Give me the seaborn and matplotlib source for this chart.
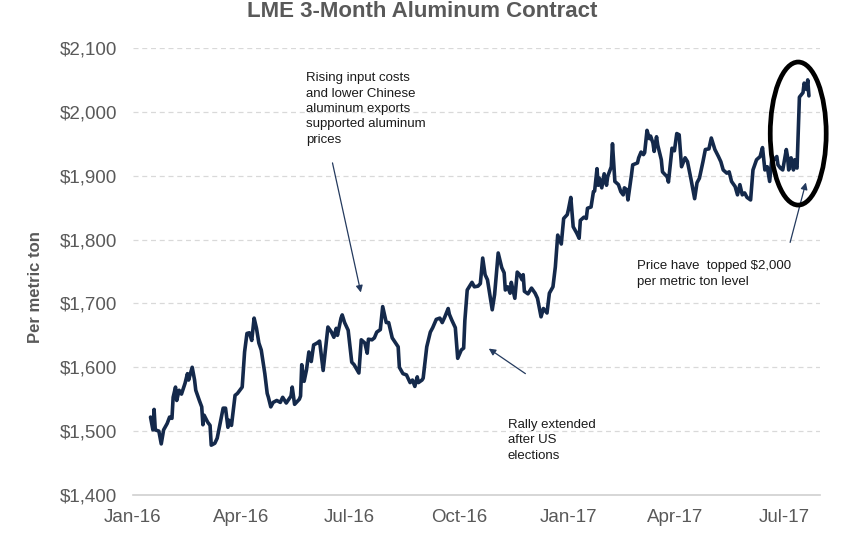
import pandas as pd
import matplotlib
matplotlib.use("Agg")
import matplotlib.pyplot as plt
import matplotlib.dates as mdates
from matplotlib.patches import Ellipse
import seaborn as sns

# LME 3-month aluminum price, $ per metric ton
dates = [
    "2016-01-16", "2016-01-18", "2016-01-19", "2016-01-20", "2016-01-23", "2016-01-25",
    "2016-01-27", "2016-01-30", "2016-02-01", "2016-02-03", "2016-02-04", "2016-02-06",
    "2016-02-07", "2016-02-09", "2016-02-11", "2016-02-14", "2016-02-16", "2016-02-17",
    "2016-02-20", "2016-02-22", "2016-02-23", "2016-02-26", "2016-02-28", "2016-02-29",
    "2016-03-01", "2016-03-04", "2016-03-06", "2016-03-07", "2016-03-10", "2016-03-12",
    "2016-03-17", "2016-03-19", "2016-03-21", "2016-03-22", "2016-03-24", "2016-03-27",
    "2016-03-29", "2016-04-02", "2016-04-04", "2016-04-06", "2016-04-08", "2016-04-10",
    "2016-04-12", "2016-04-14", "2016-04-16", "2016-04-18", "2016-04-21", "2016-04-23",
    "2016-04-24", "2016-04-26", "2016-04-28", "2016-05-01", "2016-05-04", "2016-05-06",
    "2016-05-09", "2016-05-13", "2016-05-14", "2016-05-16", "2016-05-20", "2016-05-21",
    "2016-05-22", "2016-05-24", "2016-05-26", "2016-05-28", "2016-05-30", "2016-06-01",
    "2016-06-04", "2016-06-06", "2016-06-08", "2016-06-09", "2016-06-13", "2016-06-16",
    "2016-06-18", "2016-06-20", "2016-06-21", "2016-06-24", "2016-06-25", "2016-06-27",
    "2016-06-30", "2016-07-03", "2016-07-05", "2016-07-09", "2016-07-11", "2016-07-14",
    "2016-07-16", "2016-07-17", "2016-07-20", "2016-07-22", "2016-07-24", "2016-07-27",
    "2016-07-29", "2016-08-01", "2016-08-03", "2016-08-06", "2016-08-11", "2016-08-12",
    "2016-08-15", "2016-08-18", "2016-08-21", "2016-08-23", "2016-08-25", "2016-08-27",
    "2016-08-28", "2016-08-31", "2016-09-01", "2016-09-04", "2016-09-07", "2016-09-09",
    "2016-09-12", "2016-09-15", "2016-09-17", "2016-09-19", "2016-09-22", "2016-09-23",
    "2016-09-25", "2016-09-28", "2016-09-30", "2016-10-03", "2016-10-05", "2016-10-06",
    "2016-10-08", "2016-10-12", "2016-10-14", "2016-10-17", "2016-10-19", "2016-10-21",
    "2016-10-23", "2016-10-25", "2016-10-29", "2016-10-31", "2016-11-03", "2016-11-06",
    "2016-11-08", "2016-11-09", "2016-11-11", "2016-11-13", "2016-11-14", "2016-11-17",
    "2016-11-19", "2016-11-21", "2016-11-23", "2016-11-24", "2016-11-25", "2016-11-28",
    "2016-12-01", "2016-12-04", "2016-12-06", "2016-12-09", "2016-12-11", "2016-12-14",
    "2016-12-16", "2016-12-19", "2016-12-21", "2016-12-23", "2016-12-26", "2016-12-28",
    "2016-12-31", "2017-01-01", "2017-01-03", "2017-01-05", "2017-01-08", "2017-01-10",
    "2017-01-11", "2017-01-14", "2017-01-16", "2017-01-17", "2017-01-20", "2017-01-22",
    "2017-01-23", "2017-01-25", "2017-01-26", "2017-01-27", "2017-01-29", "2017-01-31",
    "2017-02-02", "2017-02-03", "2017-02-06", "2017-02-07", "2017-02-09", "2017-02-12",
    "2017-02-14", "2017-02-16", "2017-02-17", "2017-02-19", "2017-02-20", "2017-02-23",
    "2017-02-24", "2017-02-28", "2017-03-01", "2017-03-03", "2017-03-05", "2017-03-06",
    "2017-03-08", "2017-03-10", "2017-03-11", "2017-03-13", "2017-03-14", "2017-03-16",
    "2017-03-17", "2017-03-20", "2017-03-21", "2017-03-25", "2017-03-26", "2017-03-29",
    "2017-03-31", "2017-04-02", "2017-04-04", "2017-04-06", "2017-04-09", "2017-04-11",
    "2017-04-14", "2017-04-17", "2017-04-19", "2017-04-21", "2017-04-24", "2017-04-26",
    "2017-04-29", "2017-05-01", "2017-05-04", "2017-05-07", "2017-05-09", "2017-05-11",
    "2017-05-14", "2017-05-16", "2017-05-18", "2017-05-21", "2017-05-23", "2017-05-25",
    "2017-05-27", "2017-05-29", "2017-05-31", "2017-06-03", "2017-06-05", "2017-06-08",
    "2017-06-11", "2017-06-13", "2017-06-15", "2017-06-17", "2017-06-19", "2017-06-21",
    "2017-06-23", "2017-06-25", "2017-06-26", "2017-06-28", "2017-06-30", "2017-07-03",
    "2017-07-04", "2017-07-05", "2017-07-07", "2017-07-09", "2017-07-10", "2017-07-11",
    "2017-07-12", "2017-07-14", "2017-07-17", "2017-07-18", "2017-07-20", "2017-07-21",
    "2017-07-22",
]
prices = [
    1522, 1502, 1534, 1502, 1500, 1480,
    1502, 1512, 1522, 1520, 1553, 1569,
    1548, 1564, 1558, 1575, 1590, 1580,
    1600, 1580, 1564, 1548, 1538, 1510,
    1525, 1514, 1509, 1478, 1481, 1489,
    1536, 1536, 1506, 1517, 1509, 1556,
    1559, 1569, 1624, 1653, 1654, 1642,
    1677, 1661, 1638, 1627, 1590, 1559,
    1553, 1538, 1545, 1548, 1545, 1553,
    1544, 1555, 1569, 1542, 1550, 1555,
    1604, 1578, 1596, 1624, 1609, 1635,
    1638, 1641, 1611, 1595, 1663, 1655,
    1647, 1661, 1650, 1677, 1682, 1670,
    1658, 1608, 1604, 1591, 1643, 1638,
    1622, 1644, 1643, 1646, 1655, 1659,
    1695, 1670, 1670, 1646, 1632, 1600,
    1590, 1588, 1576, 1580, 1570, 1585,
    1576, 1580, 1583, 1632, 1655, 1662,
    1675, 1677, 1670, 1678, 1692, 1683,
    1674, 1662, 1614, 1627, 1630, 1673,
    1721, 1733, 1726, 1727, 1731, 1771,
    1745, 1737, 1690, 1714, 1779, 1756,
    1748, 1721, 1726, 1716, 1733, 1708,
    1749, 1745, 1737, 1745, 1719, 1715,
    1724, 1716, 1708, 1679, 1692, 1685,
    1716, 1726, 1757, 1807, 1793, 1833,
    1839, 1847, 1866, 1820, 1810, 1802,
    1830, 1835, 1833, 1849, 1851, 1875,
    1876, 1911, 1885, 1896, 1881, 1903,
    1885, 1899, 1914, 1950, 1891, 1886,
    1875, 1870, 1881, 1878, 1862, 1902,
    1917, 1920, 1928, 1937, 1933, 1936,
    1971, 1958, 1962, 1951, 1938, 1961,
    1948, 1925, 1906, 1898, 1890, 1943,
    1939, 1966, 1964, 1914, 1928, 1922,
    1894, 1864, 1889, 1896, 1922, 1941,
    1942, 1959, 1941, 1930, 1922, 1909,
    1904, 1906, 1891, 1883, 1870, 1886,
    1870, 1873, 1866, 1862, 1909, 1925,
    1930, 1944, 1909, 1914, 1891, 1930,
    1925, 1930, 1917, 1912, 1909, 1941,
    1930, 1909, 1928, 1909, 1925, 1914,
    1912, 2023, 2030, 2045, 2035, 2050,
    2025,
]
y_ticks = [1400, 1500, 1600, 1700, 1800, 1900, 2000, 2100]

df = pd.DataFrame({"date": pd.to_datetime(dates), "price": prices})

sns.set_style("white")
plt.rcParams["font.family"] = ["Liberation Sans", "DejaVu Sans"]

fig = plt.figure(figsize=(8.45, 5.36), dpi=100)
ax = fig.add_axes([0.157, 0.0765, 0.813, 0.834])

sns.lineplot(data=df, x="date", y="price", color="#14294b", linewidth=2.6, ax=ax)

ax.set_ylim(1400, 2100)
ax.set_xlim(pd.Timestamp("2016-01-01"), pd.Timestamp("2017-07-31"))
ax.set_yticks(y_ticks)
ax.set_yticklabels([f"${v:,}" for v in y_ticks])
ax.xaxis.set_major_locator(mdates.MonthLocator(bymonth=[1, 4, 7, 10]))
ax.xaxis.set_major_formatter(mdates.DateFormatter("%b-%y"))

ax.grid(axis="y", linestyle=(0, (4, 3)), color="#d9d9d9", linewidth=0.9)
ax.grid(axis="x", visible=False)
for side in ["top", "right", "left"]:
    ax.spines[side].set_visible(False)
ax.spines["bottom"].set_color("#d0d0d0")
ax.spines["bottom"].set_linewidth(1.2)
ax.tick_params(axis="y", length=0, pad=11, labelsize=13.5, labelcolor="#595959")
ax.tick_params(axis="x", length=5, width=1, color="#d0d0d0", pad=5,
               labelsize=13.5, labelcolor="#595959", direction="out")
ax.set_xlabel("")
ax.set_ylabel("")

fig.text(0.5, 0.979, "LME 3-Month Aluminum Contract", ha="center", va="center",
         fontsize=16, fontweight="bold", color="#595959")
fig.text(35 / 845, 1 - 287 / 536, "Per metric ton", rotation=90, ha="center",
         va="center", fontsize=12, fontweight="bold", color="#595959")

note_kw = dict(xycoords="axes fraction", textcoords="axes fraction",
               fontsize=9.5, color="#1a1a1a", ha="left", va="top", linespacing=1.38)
arrow_kw = dict(arrowstyle="-|>", color="#243a5e", lw=0.9, mutation_scale=10)

ax.annotate("Rising input costs\nand lower Chinese\naluminum exports\nsupported aluminum\nprices",
            xy=(0.333, 0.447), xytext=(0.253, 0.946), **note_kw)
ax.annotate("", xy=(0.333, 0.447), xytext=(0.290, 0.749),
            xycoords="axes fraction", textcoords="axes fraction", arrowprops=arrow_kw)

ax.annotate("Rally extended\nafter US\nelections",
            xy=(0.515, 0.331), xytext=(0.546, 0.170), **note_kw)
ax.annotate("", xy=(0.515, 0.331), xytext=(0.575, 0.268),
            xycoords="axes fraction", textcoords="axes fraction", arrowprops=arrow_kw)

ax.annotate("Price have  topped $2,000\nper metric ton level",
            xy=(0.981, 0.705), xytext=(0.734, 0.525), **note_kw)
ax.annotate("", xy=(0.981, 0.705), xytext=(0.956, 0.559),
            xycoords="axes fraction", textcoords="axes fraction", arrowprops=arrow_kw)

ring = Ellipse((mdates.date2num(pd.Timestamp("2017-07-13")), 1966), width=47, height=224,
               fill=False, edgecolor="black", linewidth=3.4, clip_on=False, zorder=5)
ax.add_patch(ring)

fig.savefig("out.png", dpi=100)
